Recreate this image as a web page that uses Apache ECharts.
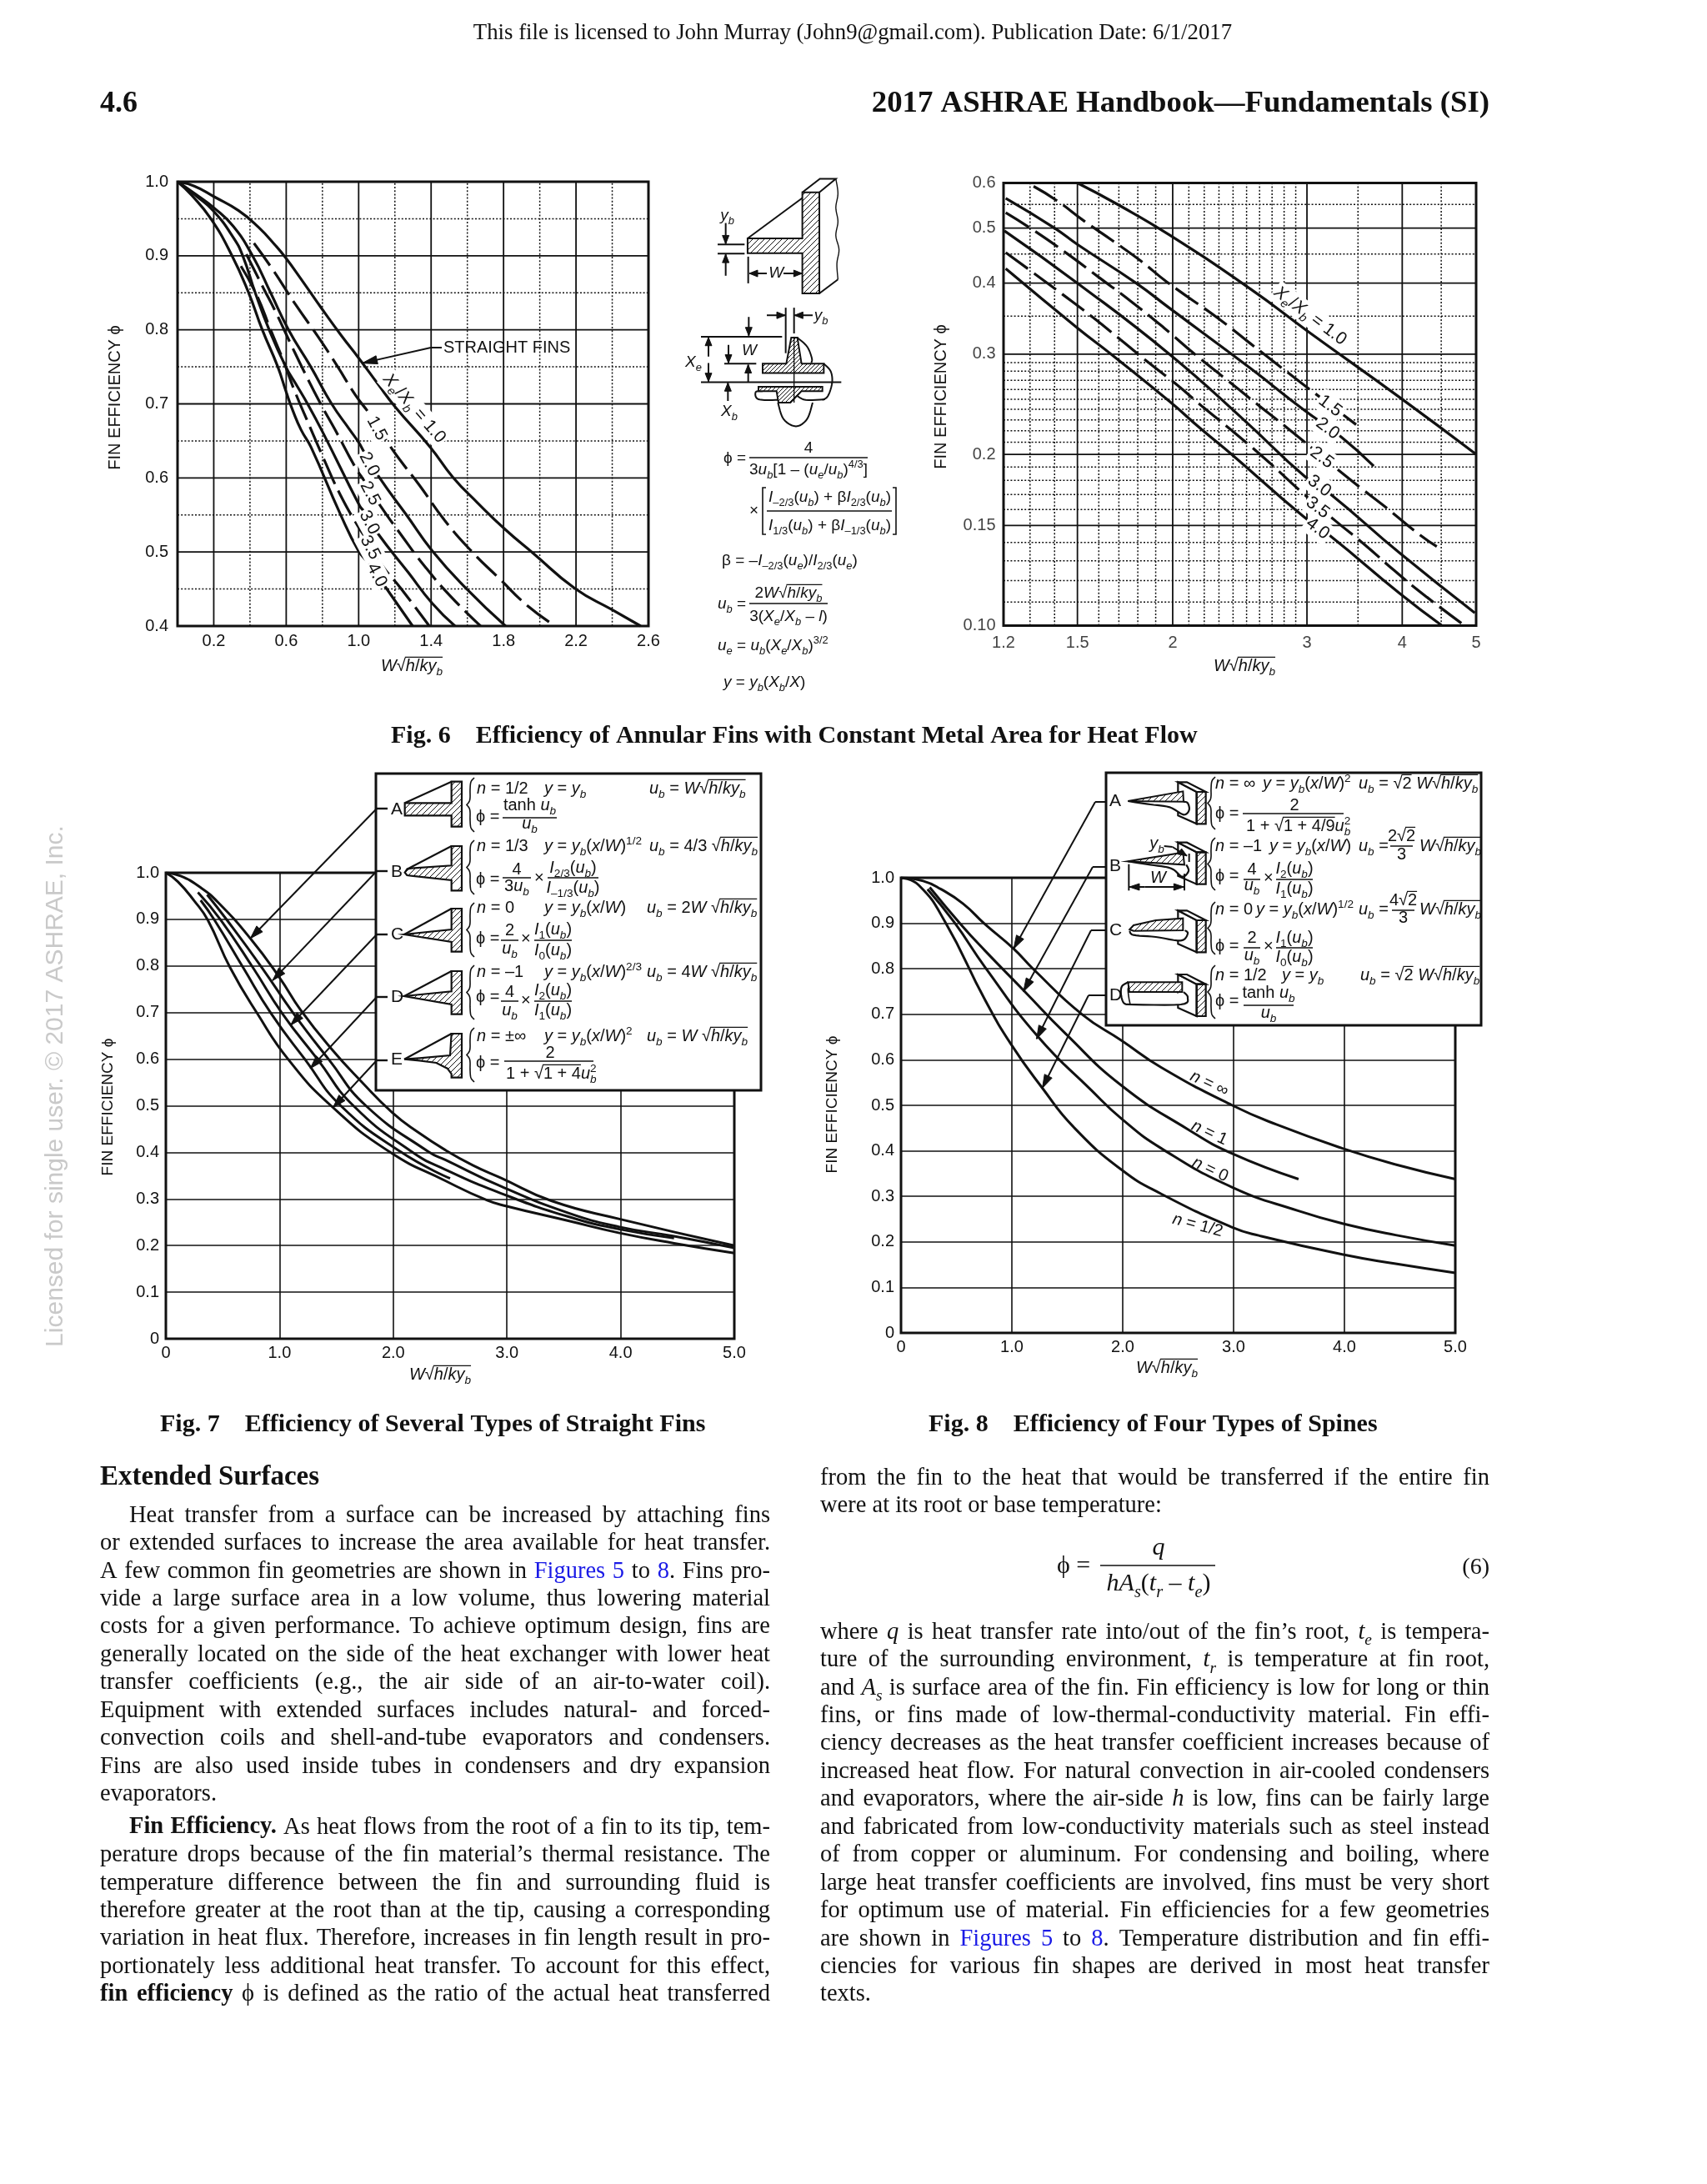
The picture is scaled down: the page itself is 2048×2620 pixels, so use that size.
<!DOCTYPE html>
<html><head><meta charset="utf-8">
<script src="https://cdn.jsdelivr.net/npm/echarts@6/dist/echarts.min.js"></script>
<style>html,body{margin:0;padding:0;background:#fff}#main{width:2048px;height:2620px}</style>
</head><body><div id="main"></div>
<script>
// ---------- Fig. 6 (linear) : [W*sqrt(h/ky_b), fin efficiency]
const annular_10=[[0,1],[.092,.994],[.2,.98],[.337,.961],[.445,.939],[.544,.913],[.598,.897],[.675,.871],[.798,.828],[.905,.792],[1,.762],[1.106,.727],[1.198,.697],[1.397,.641],[1.52,.601],[1.658,.566],[1.811,.53],[1.965,.498],[2.193,.451],[2.399,.422],[2.557,.4]];
const annular_15=[[.422,.917],[.521,.883],[.652,.834],[.775,.791],[.882,.751],[.982,.712],[1.067,.684],[1.16,.648],[1.229,.624],[1.336,.59],[1.474,.543],[1.627,.5],[1.773,.465],[1.934,.427],[2.086,.4]];
const annular_20=[[0,1],[.107,.982],[.2,.965],[.307,.94],[.414,.9],[.514,.85],[.613,.8],[.736,.75],[.851,.7],[.951,.665],[1,.648],[1.03,.635],[1.113,.601],[1.264,.55],[1.405,.502],[1.597,.45],[1.811,.4]];
const annular_25=[[.38,.902],[.475,.856],[.544,.823],[.621,.783],[.706,.74],[.79,.7],[.87,.665],[.98,.615],[1.037,.594],[1.121,.562],[1.229,.525],[1.367,.48],[1.512,.439],[1.673,.4]];
const annular_30=[[0,1],[.107,.98],[.2,.96],[.307,.925],[.36,.9],[.429,.85],[.506,.8],[.598,.75],[.653,.727],[.718,.7],[.799,.663],[1.006,.562],[1.029,.555],[1.106,.525],[1.275,.472],[1.405,.431],[1.532,.4]];
const annular_35=[[.35,.886],[.437,.847],[.514,.8],[.583,.759],[.644,.719],[.729,.67],[.807,.626],[.899,.577],[.998,.534],[1.044,.517],[1.129,.482],[1.229,.452],[1.39,.4]];
const annular_40=[[0,1],[.077,.982],[.184,.95],[.299,.901],[.391,.851],[.468,.8],[.552,.751],[.6,.716],[.638,.69],[.682,.665],[.738,.641],[.899,.551],[.998,.502],[1.06,.483],[1.144,.454],[1.298,.4]];
// ---------- Fig. 6 (log-log)
const log_10=[[1.5,.6],[1.69,.551],[1.981,.486],[2.527,.391],[3,.33],[3.968,.252],[5,.2]];
const log_15=[[1.314,.592],[1.406,.56],[1.532,.514],[1.668,.475],[1.815,.438],[1.965,.402],[2.307,.345],[2.527,.3135],[2.95,.267],[3.48,.2256]];
const log_20=[[1.208,.564],[1.4,.5],[1.5,.4678],[1.791,.4],[1.981,.3615],[2.527,.2836],[2.97,.2396],[3.33,.2144],[3.67,.1907]];
const log_25=[[1.208,.532],[1.32,.4935],[1.46,.449],[1.6,.4096],[1.763,.3717],[1.949,.3336],[2.145,.2989],[2.344,.2718],[2.582,.245],[2.83,.2223],[3.05,.2048],[3.45,.1788],[3.8,.1617],[4.22,.1443],[4.44,.1377]];
const log_30=[[1.203,.4945],[1.5,.4],[1.981,.3],[2.489,.2289],[2.98,.1829],[3.22,.1703],[3.968,.1342],[4.98,.1053]];
const log_35=[[1.208,.4527],[1.309,.4184],[1.434,.3822],[1.572,.3481],[1.71,.3179],[1.86,.2899],[2.03,.2645],[2.19,.2424],[2.426,.2168],[2.68,.1933],[2.95,.1718],[3.27,.1528],[3.58,.1384],[3.91,.1248],[4.31,.1122],[4.83,.1]];
const log_40=[[1.208,.4241],[1.5,.3336],[1.661,.3],[1.981,.2478],[2.18,.2215],[2.389,.2],[2.97,.1554],[3.22,.1437],[3.968,.114],[4.51,.1]];
// ---------- Fig. 7
const straight_A=[[0,1],[.13,.993],[.301,.969],[.461,.936],[.743,.859],[1,.775],[1.184,.706],[1.453,.623],[1.723,.551],[1.993,.485],[2.213,.444],[2.458,.405],[2.703,.372],[2.948,.345],[3.39,.296],[3.99,.257],[5,.2]];
const straight_B=[[.363,.953],[.539,.898],[.846,.796],[1.123,.698],[1.434,.599],[1.76,.5],[2.311,.401],[2.458,.384],[2.948,.327],[3.54,.27],[3.99,.24],[4.47,.22],[5,.195]];
const straight_C=[[.282,.958],[.485,.898],[.767,.796],[1.024,.698],[1.336,.599],[1.65,.5],[2.164,.401],[2.458,.363],[2.948,.312],[3.54,.262],[3.99,.235],[4.47,.216]];
const straight_D=[[.306,.941],[.429,.898],[.681,.796],[.926,.698],[1.225,.599],[1.539,.5],[2.066,.401],[2.5,.344]];
const straight_E=[[0,1],[.105,.981],[.252,.939],[.37,.898],[.566,.796],[.804,.698],[1.078,.599],[1.453,.5],[1.968,.401],[2.458,.339],[2.826,.297],[2.99,.285],[3.54,.253],[3.99,.227],[4.47,.205],[5,.184]];
// ---------- Fig. 8
const spine_inf=[[0,1],[.2,.993],[.36,.975],[.56,.943],[.757,.898],[1.016,.844],[1.195,.799],[1.633,.7],[1.992,.642],[2.35,.583],[2.988,.5],[3.386,.458],[3.988,.405],[4.462,.37],[5,.338]];
const spine_1=[[.259,.979],[.538,.898],[.757,.84],[1.116,.75],[1.474,.66],[1.992,.543],[2.59,.447],[2.988,.394],[3.586,.338]];
const spine_0=[[.239,.975],[.478,.903],[.757,.804],[1.235,.651],[1.713,.534],[1.992,.47],[2.351,.405],[2.988,.32],[3.586,.268],[3.988,.24],[4.462,.215],[5,.192]];
const spine_half=[[0,1],[.159,.984],[.398,.903],[.757,.732],[.996,.633],[1.275,.538],[1.554,.453],[1.992,.358],[2.351,.305],[2.988,.232],[3.227,.214],[3.988,.172],[4.462,.152],[5,.132]];
// ---------- ticks
const ann_xLabels=['0.2','0.6','1.0','1.4','1.8','2.2','2.6'];
const ann_xSolid=[.2,.6,1,1.4,1.8,2.2], ann_xDot=[.4,.8,1.2,1.6,2,2.4];
const ann_ySolid=[.5,.6,.7,.8,.9], ann_yDot=[.45,.55,.65,.75,.85,.95];
const log_xTicks=[1.2,1.5,2,3,4,5], log_xLabels=['1.2','1.5','2','3','4','5'];
const log_yTicks=[.6,.5,.4,.3,.2,.15,.1], log_yLabels=['0.6','0.5','0.4','0.3','0.2','0.15','0.10'];
const log_xSolid=[1.5,2,3,4], log_xDot=[1.3,1.4,1.6,1.7,1.8,1.9,2.1,2.2,2.3,2.4,2.5,2.6,2.7,2.8,2.9,3.5,4.5];
const log_ySolid=[.15,.2,.3,.4,.5], log_yDot=[.11,.12,.13,.14,.16,.17,.18,.19,.21,.22,.23,.24,.25,.26,.27,.28,.29,.35,.45,.55];

const rects=[
 {left:213,top:218,width:565,height:533},
 {left:1204,top:219.5,width:567,height:531},
 {left:199,top:1047,width:682,height:559},
 {left:1081,top:1053,width:665,height:546}];
const ext=[[0,2.6,.4,1],[1.2,5,.1,.6],[0,5,0,1],[0,5,0,1]];
const BLK='#111';
function gridSeries(k,xs,ys,name,style){
  const [x0,x1,y0,y1]=ext[k],d=[];
  xs.forEach(v=>d.push([v,y0],[v,y1],[v,'-']));
  ys.forEach(v=>d.push([x0,v],[x1,v],[x0,'-']));
  return {type:'line',name,xAxisIndex:k,yAxisIndex:k,data:d,symbol:'none',silent:true,z:1,connectNulls:false,lineStyle:style};
}
const SOL={color:BLK,width:1.8},DOT={color:BLK,width:1.5,type:[2,2.2]};
function curve(k,data,dash,w){
  return {type:'line',xAxisIndex:k,yAxisIndex:k,data,symbol:'none',smooth:.5,silent:true,z:3,
    lineStyle:{color:BLK,width:w||3.2,type:dash?[33,9]:'solid'}};
}
function tickLabels(k,arr,pos){
  return {type:'scatter',xAxisIndex:k,yAxisIndex:k,data:arr,symbolSize:1,clip:false,silent:true,itemStyle:{color:'transparent'},z:4,
    label:{show:true,position:pos,distance:pos==='left'?9:10,fontFamily:'Liberation Sans',fontSize:20,color:BLK,formatter:p=>p.value[2]}};
}
const baseAxis={axisLine:{show:false},axisTick:{show:false},axisLabel:{fontFamily:'Liberation Sans',fontSize:20,color:BLK,margin:8,showMinLabel:true,showMaxLabel:true,hideOverlap:false}};
const spl={show:true,lineStyle:{color:BLK,width:1.6}};
const labelFmt=v=>v===0?'0':v.toFixed(1);
const option={animation:false,backgroundColor:'#fff',
 grid:rects.map(r=>({...r,show:true,borderColor:BLK,borderWidth:3,backgroundColor:'transparent',z:5})),
 xAxis:[
  {...baseAxis,gridIndex:0,type:'value',min:0,max:2.6,interval:.2,splitLine:{show:false},axisLabel:{...baseAxis.axisLabel,formatter:v=>{const s=v.toFixed(1);return ann_xLabels.includes(s)?s:''}}},
  {gridIndex:1,type:'log',logBase:10,min:1.2,max:5,show:false},
  {...baseAxis,gridIndex:2,type:'value',min:0,max:5,interval:1,splitLine:spl,axisLabel:{...baseAxis.axisLabel,margin:7,formatter:labelFmt}},
  {...baseAxis,gridIndex:3,type:'value',min:0,max:5,interval:1,splitLine:spl,axisLabel:{...baseAxis.axisLabel,margin:7,formatter:labelFmt}}],
 yAxis:[
  {...baseAxis,gridIndex:0,type:'value',min:.4,max:1,interval:.1,splitLine:{show:false},axisLabel:{...baseAxis.axisLabel,margin:11,formatter:v=>v.toFixed(1)}},
  {gridIndex:1,type:'log',logBase:10,min:.1,max:.6,show:false},
  {...baseAxis,gridIndex:2,type:'value',min:0,max:1,interval:.1,splitLine:spl,axisLabel:{...baseAxis.axisLabel,formatter:labelFmt}},
  {...baseAxis,gridIndex:3,type:'value',min:0,max:1,interval:.1,splitLine:spl,axisLabel:{...baseAxis.axisLabel,padding:[0,0,9,0],formatter:labelFmt}}],
 series:[
  gridSeries(0,ann_xSolid,ann_ySolid,'grid',SOL),gridSeries(0,ann_xDot,ann_yDot,'minor',DOT),
  curve(0,annular_10),curve(0,annular_15,1),curve(0,annular_20),curve(0,annular_25,1),curve(0,annular_30),curve(0,annular_35,1),curve(0,annular_40),
  gridSeries(1,log_xSolid,log_ySolid,'grid',SOL),gridSeries(1,log_xDot,log_yDot,'minor',DOT),
  curve(1,log_10),curve(1,log_15,1),curve(1,log_20),curve(1,log_25,1),curve(1,log_30),curve(1,log_35,1),curve(1,log_40),
  tickLabels(1,log_xTicks.map((v,i)=>[v,.1,log_xLabels[i]]),'bottom'),
  tickLabels(1,log_yTicks.map((v,i)=>[1.2,v,log_yLabels[i]]),'left'),
  curve(2,straight_A,0,3),curve(2,straight_B,0,3),curve(2,straight_C,0,3),curve(2,straight_D,0,3),curve(2,straight_E,0,3),
  curve(3,spine_inf,0,3),curve(3,spine_1,0,3),curve(3,spine_0,0,3),curve(3,spine_half,0,3)
 ]};
const chart=echarts.init(document.getElementById('main'),null,{renderer:'canvas'});
chart.setOption(option);

// ---------- text + drawing helpers (annotations only)
const els=[];const Z=20;
const SANS='"Liberation Sans"',SERIF='"Liberation Serif"';
const mctx=document.createElement('canvas').getContext('2d');
const fontOf=s=>`${s.i?'italic ':''}${s.b?'bold ':''}${s.size}px ${s.fam}`;
function run(s,st,x,y,out){
  let i=0,buf='';st={...st};
  const flush=()=>{ if(!buf)return; const f=fontOf(st);mctx.font=f;
    if(out)out.push({type:'text',x,y:y-.3465*st.size,z:Z+1,silent:true,style:{text:buf,font:f,fill:st.color,textAlign:'left',textVerticalAlign:'middle',verticalAlign:'middle'}});
    x+=mctx.measureText(buf).width;buf='';};
  const block=j=>{let d=0,k=j;for(;k<s.length;k++){if(s[k]==='{')d++;if(s[k]==='}'){d--;if(!d)break;}}return [s.slice(j+1,k),k+1];};
  while(i<s.length){const c=s[i];
    if(c==='*'){flush();st.i=!st.i;i++;}
    else if(c==='#'){flush();st.b=!st.b;i++;}
    else if(c==='~'){flush();st.color=st.color==='#1a1ae6'?'#111':'#1a1ae6';i++;}
    else if((c==='_'||c==='^')&&s[i+1]==='{'){flush();const [inner,nx]=block(i+1);
      const ss={...st,size:st.size*.68};
      x=run(inner,ss,x,y+(c==='_'?.24:-.4)*st.size,out);i=nx;}
    else if(c==='√'&&s[i+1]==='{'){const keep=st.i;flush();st.i=false;buf='√';flush();st.i=keep;const [inner,nx]=block(i+1);const x0=x;
      x=run(inner,st,x,y,out);
      if(out)out.push(poly([[x0-1,y-st.size*.88],[x,y-st.size*.88]],{w:1.2}));i=nx;}
    else{buf+=c;i++;}
  }
  flush();return x;
}
function poly(pts,o={}){
  const closed=o.closed;
  return {type:closed?'polygon':'polyline',z:o.z||Z,silent:true,shape:{points:pts},
    style:{stroke:o.stroke===undefined?'#111':o.stroke,lineWidth:o.w===undefined?2:o.w,fill:o.fill||null,lineJoin:'miter'}};
}
const add=(...a)=>els.push(...a);
const STY=(size,fam,x={})=>({size,fam:fam||SANS,color:'#111',i:false,b:false,...x});
function T(x,y,s,size=20,x2={}){run(s,STY(size,x2.fam,x2),x,y,els);}
function W(s,size=20,x2={}){return run(s,STY(size,x2.fam,x2),0,0,null);}
function C(cx,y,s,size=20,x2={}){T(cx-W(s,size,x2)/2,y,s,size,x2);}
function R(xr,y,s,size=20,x2={}){T(xr-W(s,size,x2),y,s,size,x2);}
function rot(cx,cy,deg,s,size,o={}){
  const w=W(s,size,o),kids=[];
  if(o.bg)kids.push({type:'rect',z:Z,silent:true,shape:{x:-w/2-(o.pad||2),y:-size*.62,width:w+2*(o.pad||2),height:size*1.25},style:{fill:'#fff'}});
  run(s,STY(size,o.fam,o),-w/2,size*.35,kids);
  add({type:'group',x:cx,y:cy,rotation:deg*Math.PI/180,children:kids,silent:true});
}
function smooth(pts,n=10){
  const out=[];
  for(let i=0;i<pts.length-1;i++){
    const p0=pts[Math.max(0,i-1)],p1=pts[i],p2=pts[i+1],p3=pts[Math.min(pts.length-1,i+2)];
    for(let k=0;k<n;k++){const t=k/n,t2=t*t,t3=t2*t;
      out.push([0,1].map(a=>.5*(2*p1[a]+(p2[a]-p0[a])*t+(2*p0[a]-5*p1[a]+4*p2[a]-p3[a])*t2+(3*p1[a]-p0[a]-3*p2[a]+p3[a])*t3)));}
  }
  out.push(pts[pts.length-1]);return out;
}
function hatch(pg,step=6,w=1){
  const cs=pg.map(p=>p[0]+p[1]);const mn=Math.min(...cs),mx=Math.max(...cs);
  for(let c=Math.ceil(mn/step)*step;c<mx;c+=step){
    const xs=[];
    pg.forEach((a,i)=>{const b=pg[(i+1)%pg.length],fa=a[0]+a[1]-c,fb=b[0]+b[1]-c;
      if(fa*fb<0){const t=fa/(fa-fb);xs.push([a[0]+t*(b[0]-a[0]),a[1]+t*(b[1]-a[1])]);}});
    xs.sort((p,q)=>p[0]-q[0]);
    for(let i=0;i+1<xs.length;i+=2)add(poly([xs[i],xs[i+1]],{w}));
  }
}
function arrowHead(from,to,len=14,hw=5){
  const d=Math.hypot(to[0]-from[0],to[1]-from[1]),ux=(to[0]-from[0])/d,uy=(to[1]-from[1])/d;
  const bx=to[0]-ux*len,by=to[1]-uy*len;
  add(poly([to,[bx-uy*hw,by+ux*hw],[bx+uy*hw,by-ux*hw]],{closed:true,fill:'#111',w:1}));
}
function arrow(from,to,o={}){add(poly([from,to],{w:o.w||2}));arrowHead(from,to,o.len,o.hw);}
function brace(x,y0,y1,w=1.6){
  const m=(y0+y1)/2;
  const top=smooth([[x+5,y0],[x+1,y0+5],[x,y0+14],[x,m-9],[x-1,m-4],[x-4,m]],6);
  const bot=smooth([[x-4,m],[x-1,m+4],[x,m+9],[x,y1-14],[x+1,y1-5],[x+5,y1]],6);
  add(poly(top.concat(bot),{w}));
}
function frac(x0,x1,barY,num,nb,den,db,size=20,o={}){
  add(poly([[x0,barY],[x1,barY]],{w:1.5}));
  const c=(x0+x1)/2;C(c,nb,num,size,o);C(c,db,den,size,o);
}
const ZM=(ox,oy,sx,sy)=>pts=>pts.map(p=>[ox+p[0]/sx,oy+p[1]/sy]);
const Z5=ZM(440,920,3,3),Z6=ZM(1320,920,3,3),Z7=ZM(800,230,3,2.53),Z2=ZM(800,190,1.568,2.376);
const px=(k,v)=>chart.convertToPixel({gridIndex:k},v);
const UB='*u*_{*b*}',UE='*u*_{*e*}',YB='*y*_{*b*}',SQ='√{*h*/*ky*_{*b*}}',PHI='ϕ =';
const IB='(*u*_{*b*})';

// ---------- page furniture
C(1023,49,'This file is licensed to John Murray (John9@gmail.com). Publication Date: 6/1/2017',26.8,{fam:SERIF});
T(120,137,'#4.6#',36,{fam:SERIF});
R(1787,137,'#2017 ASHRAE Handbook—Fundamentals (SI)#',36.8,{fam:SERIF});
rot(67,1303,90,'Licensed for single user. © 2017 ASHRAE, Inc.',30,{color:'#c9c9c9'});
T(469,894,'#Fig. 6    Efficiency of Annular Fins with Constant Metal Area for Heat Flow#',30,{fam:SERIF});
T(192,1720,'#Fig. 7    Efficiency of Several Types of Straight Fins#',30,{fam:SERIF});
T(1114,1720,'#Fig. 8    Efficiency of Four Types of Spines#',30,{fam:SERIF});

// ---------- axis titles
rot(138,477,90,'FIN EFFICIENCY ϕ',20);
C(494,806,'*W*'+SQ,20);
rot(1129,476,90,'FIN EFFICIENCY ϕ',20);
C(1493,806,'*W*'+SQ,20);
rot(130,1328,90,'FIN EFFICIENCY ϕ',19);
C(528,1656,'*W*'+SQ,20);
rot(999,1325,90,'FIN EFFICIENCY ϕ',19);
C(1400,1648,'*W*'+SQ,20);

// ---------- Fig. 6 left labels
T(532,424,'STRAIGHT FINS',20);
add(poly([[530,417],[517,417]],{w:2}));
arrow([517,417],px(0,[1.02,.755]),{len:18,hw:5});
const annLabels=[[497,490,-49,'*X*_{*e*}/*X*_{*b*} = 1.0'],[452,514,-62,'1.5'],[443,557,-62,'2.0'],[444,592,-62,'2.5'],[443,627,-62,'3.0'],[444,657,-62,'3.5'],[452,690,-62,'4.0']];
annLabels.forEach(l=>rot(l[0],l[1],l[2],l[3],21,{bg:true}));
const logLabels=[[1572,379,-37,'*X*_{*e*}/*X*_{*b*} = 1.0'],[1596,487,-37,'1.5'],[1593,514,-37,'2.0'],[1586,549,-37,'2.5'],[1583,583,-37,'3.0'],[1581,609,-37,'3.5'],[1581,634,-37,'4.0']];
logLabels.forEach(l=>rot(l[0],l[1],l[2],l[3],21,{bg:true}));

// ---------- Fig. 6 centre diagrams
(function(){
  const f=[[152,228],[255,228],[255,97],[287,97],[287,385],[255,385],[255,270],[152,270]];
  const pg=Z2(f);add(poly(pg,{closed:true,fill:'#fff',w:2}));hatch(pg,7);
  add(poly(Z2([[152,228],[255,113]])),poly(Z2([[255,97],[288,58],[318,58],[287,97]]),{closed:false}));
  add(poly(smooth(Z2([[318,58],[322,100],[318,140],[322,180],[318,220],[324,260],[320,300],[322,345]]),6),{w:1.4}));
  add(poly(Z2([[322,345],[287,385]])));
  T(...Z7([[193,90]])[0],YB,19);
  arrow(...Z7([[212,95],[212,158]]),{len:10,hw:4});
  arrow(...Z7([[212,255],[212,190]]),{len:10,hw:4});
  add(poly(Z7([[183,160],[280,160]])),poly(Z7([[183,188],[280,188]])));
  add(poly(Z7([[293,197],[293,278]])));
  arrow(...Z7([[360,248],[297,248]]),{len:10,hw:4});
  arrow(...Z7([[420,248],[487,248]]),{len:10,hw:4});
  T(...Z7([[367,265]])[0],'*W*',19);
  // annular fin
  add(poly(Z7([[428,352],[428,490]])),poly(Z7([[458,352],[458,430]])));
  arrow(...Z7([[360,375],[426,375]]),{len:10,hw:4});
  arrow(...Z7([[525,375],[460,375]]),{len:10,hw:4});
  T(...Z7([[530,392]])[0],YB,19);
  add(poly(Z7([[123,440],[415,440]])),poly(Z7([[123,578],[628,578]]),{}),poly(Z7([[207,522],[322,522]])));
  arrow(...Z7([[295,380],[295,437]]),{len:10,hw:4});
  arrow(...Z7([[222,465],[222,520]]),{len:10,hw:4});
  arrow(...Z7([[293,578],[293,525]]),{len:10,hw:4});
  arrow(...Z7([[150,500],[150,442]]),{len:10,hw:4});
  arrow(...Z7([[150,520],[150,576]]),{len:10,hw:4});
  arrow(...Z7([[220,635],[220,580]]),{len:10,hw:4});
  T(...Z7([[66,535]])[0],'*X*_{*e*}',19);T(...Z7([[270,500]])[0],'*W*',19);T(...Z7([[195,685]])[0],'*X*_{*b*}',19);
  add(poly(smooth(Z7([[470,443],[505,470],[522,505],[520,520]]),6)));
  add(poly(smooth(Z7([[400,640],[420,690],[465,712],[505,690],[525,640]]),6)));
  add(poly(smooth(Z7([[345,605],[320,608],[330,630],[400,632]]),6)));
  add(poly(smooth(Z7([[470,620],[500,632],[570,630]]),6)));
  add(poly(smooth(Z7([[565,522],[590,545],[595,580],[580,620],[560,632]]),6)));
  const a=Z7([[345,522],[430,522],[448,443],[470,443],[485,522],[565,522],[565,550],[345,550]]);
  add(poly(a,{closed:true,fill:'#fff',w:2}));hatch(a,5);
  const b=Z7([[330,592],[560,592],[560,605],[485,605],[445,640],[402,640],[395,605],[330,605]]);
  add(poly(b,{closed:true,fill:'#fff',w:2}));hatch(b,5);
  add(poly(Z7([[458,440],[458,640]]),{w:1.4}));
  // formulas
  const s=19;
  T(868,556,PHI,s);frac(899,1041,549,'4',544,'3*u*_{*b*}[1 – (*u*_{*e*}/*u*_{*b*})^{4/3}]',570,s);
  T(899,619,'×',s);
  add(poly([[919,585],[915,585],[915,641],[919,641]],{w:1.6}),poly([[1071,585],[1075,585],[1075,641],[1071,641]],{w:1.6}));
  add(poly([[920,613],[1070,613]],{w:1.5}));
  T(922,603,'*I*_{–2/3}'+IB+' + β*I*_{2/3}'+IB,s);
  T(922,637,'*I*_{1/3}'+IB+' + β*I*_{–1/3}'+IB,s);
  T(866,679,'β = –*I*_{–2/3}(*u*_{*e*})/*I*_{2/3}(*u*_{*e*})',s);
  T(861,731,UB+' =',s);frac(899,993,724,'2*W*'+SQ,718,'3(*X*_{*e*}/*X*_{*b*} – *l*)',746,s);
  T(861,781,UE+' = '+UB+'(*X*_{*e*}/*X*_{*b*})^{3/2}',s);
  T(868,825,'*y* = '+YB+'(*X*_{*b*}/*X*)',s);
})();

// ---------- Fig. 7 panel
(function(){
  add({type:'rect',z:Z-1,silent:true,shape:{x:451,y:928,width:462,height:380},style:{fill:'#fff',stroke:'#111',lineWidth:3}});
  const lead=[['A',970,978,.743,.859],['B',1045,1053,.939,.769],['C',1121,1128,1.098,.673],['D',1196,1203,1.27,.58],['E',1272,1278,1.47,.496]];
  lead.forEach(l=>{
    add(poly([[452,l[1]],[465,l[1]]],{w:2.4}));
    T(469,l[2],l[0],21);
    arrow([452,l[1]],px(2,[l[3],l[4]]),{len:16,hw:5});
  });
  const fins=[
   {pg:[[305,53],[342,53],[342,215],[305,215],[305,175],[137,175],[137,130],[305,130]],t:[[137,130],[305,53]]},
   {pg:[[305,285],[342,285],[342,445],[305,445],[305,408],[160,392],[145,390],[137,380],[145,368],[160,365],[305,355]],t:[[145,368],[305,285]]},
   {pg:[[305,510],[342,510],[342,665],[305,665],[305,630],[135,603],[305,585]],t:[[135,603],[305,510]]},
   {pg:[[305,735],[342,735],[342,890],[305,890],[305,855],[135,825],[305,808]],t:[[135,825],[305,735]]},
   {pg:[[305,960],[342,960],[342,1118],[305,1118],[305,1105],[290,1085],[250,1065],[190,1057],[135,1052],[190,1048],[300,1038]],t:[[135,1052],[305,960]]}];
  fins.forEach(f=>{const p=Z5(f.pg);hatch(p,7);add(poly(p,{closed:true,w:2.2}));add(poly(Z5(f.t),{w:2.2}));});
  [[933,998],[1008,1073],[1083,1148],[1158,1223],[1233,1298]].forEach(b=>brace(564,b[0],b[1]));
  const s=20,xn=572,xy=653;
  T(xn,953,'*n* = 1/2',s);T(xy,953,'*y* = '+YB,s);T(779,953,UB+' = *W*'+SQ,s);
  T(571,987,PHI,s);frac(603,668,981,'tanh '+UB,973,UB,995,s);
  T(xn,1022,'*n* = 1/3',s);T(xy,1022,'*y* = '+YB+'(*x*/*W*)^{1/2}',s);T(779,1022,UB+' = 4/3 '+SQ,s);
  T(571,1062,PHI,s);frac(603,637,1053,'4',1050,'3'+UB,1070,s);T(641,1060,'×',s);frac(657,718,1053,'*I*_{2/3}'+IB,1048,'*I*_{–1/3}'+IB,1072,s);
  T(xn,1096,'*n* = 0',s);T(xy,1096,'*y* = '+YB+'(*x*/*W*)',s);T(776,1096,UB+' = 2*W* '+SQ,s);
  T(571,1133,PHI,s);frac(601,622,1128,'2',1123,UB,1145,s);T(625,1133,'×',s);frac(641,686,1128,'*I*_{1}'+IB,1122,'*I*_{0}'+IB,1147,s);
  T(xn,1173,'*n* = –1',s);T(xy,1173,'*y* = '+YB+'(*x*/*W*)^{2/3}',s);T(776,1173,UB+' = 4*W* '+SQ,s);
  T(571,1203,PHI,s);frac(601,622,1201,'4',1197,UB,1219,s);T(625,1207,'×',s);frac(641,686,1201,'*I*_{2}'+IB,1195,'*I*_{1}'+IB,1219,s);
  T(xn,1250,'*n* = ±∞',s);T(xy,1250,'*y* = '+YB+'(*x*/*W*)^{2}',s);T(776,1250,UB+' = *W* '+SQ,s);
  T(571,1282,PHI,s);add(poly([[605,1273],[712,1273]],{w:1.5}));C(660,1270,'2',s);
  T(607,1295,'1 + √{1 + 4}*u*',s);const wd=W('1 + √{1 + 4}*u*',s);T(607+wd,1295,'_{*b*}',s);T(607+wd,1295,'^{2}',s);
})();

// ---------- Fig. 8 panel
(function(){
  add({type:'rect',z:Z-1,silent:true,shape:{x:1327,y:927,width:450,height:303},style:{fill:'#fff',stroke:'#111',lineWidth:3}});
  const lead=[['A',962,968,1.016,.844,1314],['B',1040,1046,1.104,.75,1311],['C',1116,1123,1.223,.646,1309],['D',1194,1201,1.275,.538,1306]];
  lead.forEach(l=>{
    add(poly([[1327,l[1]],[l[5],l[1]]],{w:2}));
    T(1331,l[2],l[0],21);
    arrow([l[5],l[1]],px(3,[l[3],l[4]]),{len:16,hw:5});
  });
  const plate=off=>{
    add(poly(Z6([[280,55+off],[347,90+off],[347,205+off],[280,175+off]]),{closed:true,fill:'#fff',w:2.2}));
    add(poly(Z6([[280,55+off],[312,55+off],[380,90+off],[347,90+off]]),{closed:true,fill:'#fff',w:2.2}));
    const p=Z6([[347,90+off],[380,90+off],[380,205+off],[347,205+off]]);hatch(p,7);add(poly(p,{closed:true,w:2.2}));
  };
  [0,217,462,692].forEach(plate);
  const low=(pts)=>add(poly(smooth(Z6(pts),6),{w:2.2,fill:'#fff'}));
  const ht=(pts)=>{const p=Z6(pts);add(poly(p,{closed:true,fill:'#fff',w:2}));hatch(p,7);};
  low([[100,123],[180,135],[250,145],[300,172],[320,155],[315,130],[300,125]]);ht([[100,123],[298,88],[300,125]]);
  low([[100,340],[180,352],[255,365],[295,395],[318,375],[310,352]]);ht([[100,340],[298,308],[303,352]]);
  low([[106,590],[120,605],[200,612],[290,625],[315,600],[305,588]]);ht([[106,585],[120,570],[200,552],[298,545],[298,588],[120,590]]);
  low([[100,855],[290,855],[315,830],[300,810]]);
  add(poly(smooth(Z6([[100,775],[78,790],[75,820],[85,850],[105,855]]),6),{w:2.2}));
  ht([[100,775],[295,775],[295,810],[105,810]]);
  add(poly(smooth(Z6([[105,790],[100,800],[103,830],[108,855]]),6),{w:1.6}));
  add(poly(Z6([[103,350],[103,445]])),poly(Z6([[303,385],[303,445]])));
  arrow(...Z6([[160,432],[105,432]]),{len:12,hw:4});arrow(...Z6([[240,432],[301,432]]),{len:12,hw:4});
  add(poly(Z6([[160,432],[240,432]])));
  T(...Z6([[180,420]])[0],'*W*',20);T(...Z6([[178,297]])[0],YB,20);
  add(poly(Z6([[230,285],[260,288]])));arrow(...Z6([[260,288],[312,320]]),{len:10,hw:4});
  add(poly(Z6([[320,312],[320,342]]),{w:2}));
  [[932,995],[1005,1068],[1082,1145],[1158,1222]].forEach(b=>brace(1453,b[0],b[1]));
  const s=20,xn=1458;
  T(xn,947,'*n* = ∞',s);T(1515,947,'*y* = '+YB+'(*x*/*W*)^{2}',s);T(1630,947,UB+' = √{2} *W*'+SQ,s);
  T(xn,983,PHI,s);add(poly([[1491,976],[1612,976]],{w:1.5}));C(1553,973,'2',s);
  T(1495,998,'1 + √{1 + 4/9}*u*',s);const wd=W('1 + √{1 + 4/9}*u*',s);T(1495+wd,998,'_{*b*}',s);T(1495+wd,998,'^{2}',s);
  T(xn,1022,'*n* = –1',s);T(1523,1022,'*y* = '+YB+'(*x*/*W*)',s);T(1630,1022,UB+' =',s);frac(1668,1695,1015,'2√{2}',1010,'3',1032,s);T(1703,1022,'*W*'+SQ,s);
  T(xn,1058,PHI,s);frac(1492,1512,1055,'4',1050,UB,1069,s);T(1516,1060,'×',s);frac(1531,1575,1055,'*I*_{2}'+IB,1049,'*I*_{1}'+IB,1073,s);
  T(xn,1098,'*n* = 0',s);T(1507,1098,'*y* = '+YB+'(*x*/*W*)^{1/2}',s);T(1630,1098,UB+' =',s);frac(1670,1697,1092,'4√{2}',1087,'3',1108,s);T(1703,1098,'*W*'+SQ,s);
  T(xn,1142,PHI,s);frac(1492,1512,1137,'2',1132,UB,1153,s);T(1516,1142,'×',s);frac(1531,1575,1137,'*I*_{1}'+IB,1132,'*I*_{0}'+IB,1155,s);
  T(xn,1177,'*n* = 1/2',s);T(1538,1177,'*y* = '+YB,s);T(1632,1177,UB+' = √{2} *W*'+SQ,s);
  T(xn,1208,PHI,s);frac(1492,1552,1206,'tanh '+UB,1198,UB,1222,s);
  // curve tags
  [[1451,1300,-25,'*n* = ∞'],[1451,1359,-25,'*n* = 1'],[1452,1403,-25,'*n* = 0'],[1437,1470,-15,'*n* = 1/2']].forEach(l=>rot(l[0],l[1],l[2],l[3],20));
})();

// ---------- body text
function jline(s,x0,x1,base,size,justify=true){
  const st=STY(size,SERIF);const words=s.split(' ');
  const ws=words.map(w=>run(w,st,0,0,null));const sum=ws.reduce((a,b)=>a+b,0);
  mctx.font=fontOf(st);const sp=mctx.measureText(' ').width;
  const gap=justify&&words.length>1?(x1-x0-sum)/(words.length-1):sp;
  let x=x0;words.forEach((w,i)=>{run(w,st,x,base,els);x+=ws[i]+gap;});
}
const BODY=28.5,LH=33.45;
const para1=['Heat transfer from a surface can be increased by attaching fins','or extended surfaces to increase the area available for heat transfer.','A few common fin geometries are shown in ~Figures~ ~5~ to ~8~. Fins pro-','vide a large surface area in a low volume, thus lowering material','costs for a given performance. To achieve optimum design, fins are','generally located on the side of the heat exchanger with lower heat','transfer coefficients (e.g., the air side of an air-to-water coil).','Equipment with extended surfaces includes natural- and forced-','convection coils and shell-and-tube evaporators and condensers.','Fins are also used inside tubes in condensers and dry expansion','evaporators.'];
const para2=['#Fin# #Efficiency.# As heat flows from the root of a fin to its tip, tem-','perature drops because of the fin material’s thermal resistance. The','temperature difference between the fin and surrounding fluid is','therefore greater at the root than at the tip, causing a corresponding','variation in heat flux. Therefore, increases in fin length result in pro-','portionately less additional heat transfer. To account for this effect,','#fin# #efficiency# ϕ is defined as the ratio of the actual heat transferred'];
const para3=['from the fin to the heat that would be transferred if the entire fin','were at its root or base temperature:'];
const para4=['where *q* is heat transfer rate into/out of the fin’s root, *t*_{*e*} is tempera-','ture of the surrounding environment, *t*_{*r*} is temperature at fin root,','and *A*_{*s*} is surface area of the fin. Fin efficiency is low for long or thin','fins, or fins made of low-thermal-conductivity material. Fin effi-','ciency decreases as the heat transfer coefficient increases because of','increased heat flow. For natural convection in air-cooled condensers','and evaporators, where the air-side *h* is low, fins can be fairly large','and fabricated from low-conductivity materials such as steel instead','of from copper or aluminum. For condensing and boiling, where','large heat transfer coefficients are involved, fins must be very short','for optimum use of material. Fin efficiencies for a few geometries','are shown in ~Figures~ ~5~ to ~8~. Temperature distribution and fin effi-','ciencies for various fin shapes are derived in most heat transfer','texts.'];
T(120,1784,'#Extended Surfaces#',33,{fam:SERIF});
para1.forEach((l,i)=>jline(l,i?120:155,924,1828+i*LH,BODY,i<10));
para2.forEach((l,i)=>jline(l,i?120:155,924,2202+i*LH,BODY));
para3.forEach((l,i)=>jline(l,984,1787,1783+i*LH,BODY,i<1));
para4.forEach((l,i)=>jline(l,984,1787,1968+i*LH,BODY,i<13));
T(1268,1890,'ϕ =',30,{fam:SERIF});
add(poly([[1320,1878],[1458,1878]],{w:1.6}));
C(1390,1868,'*q*',30,{fam:SERIF});
C(1390,1911,'*hA*_{*s*}(*t*_{*r*} – *t*_{*e*})',30,{fam:SERIF});
R(1787,1890,'(6)',28,{fam:SERIF});

chart.setOption({graphic:{elements:els}});
</script></body></html>
